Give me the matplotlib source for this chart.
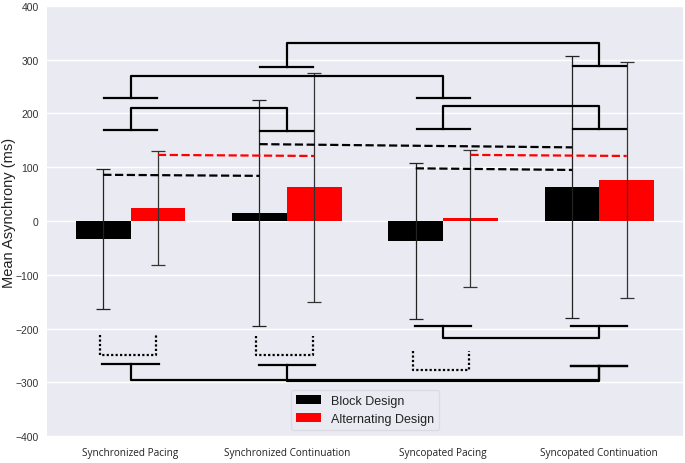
import numpy as np
import matplotlib.pyplot as plt

conditions = ['Synchronized Pacing', 'Synchronized Continuation',
              'Syncopated Pacing', 'Syncopated Continuation']
block_mean = [-33, 15, -38, 63]
block_err = [130, 211, 145, 244]
alt_mean = [24, 63, 5, 76]
alt_err = [106, 213, 127, 219]

# significance brackets above bars: (group a, group b, leg end a, leg end b, bar level)
top_brackets = [(1, 3, 287, 288, 332),
                (0, 2, 229, 229, 270),
                (0, 1, 170, 168, 211),
                (2, 3, 172, 172, 214)]
# brackets below bars (inverted)
bottom_brackets = [(0, 3, -266, -269, -295),
                   (1, 3, -268, -269, -297),
                   (2, 3, -195, -195, -217)]
# dashed comparisons between bars of the same design: (design, group a, group b, y a, y b)
dashed = [('block', 0, 1, 86, 84),
          ('alt', 0, 1, 123, 121),
          ('block', 1, 3, 143, 137),
          ('block', 2, 3, 98, 95),
          ('alt', 2, 3, 123, 121)]
# dotted within-condition comparisons: (group, top, bottom)
dotted = [(0, -212, -250), (1, -214, -249), (2, -241, -278)]

x = np.arange(len(conditions))
width = 0.35

fig = plt.figure(figsize=(6.85, 4.64), dpi=100)
ax = fig.add_axes([0.0686, 0.058, 0.9284, 0.927])
ax.set_facecolor('#EAEAF2')
for s in ax.spines.values():
    s.set_visible(False)
ax.grid(axis='y', color='white', linewidth=1.0)
ax.set_axisbelow(True)

ax.bar(x - width/2, block_mean, width, color='black', label='Block Design')
ax.bar(x + width/2, alt_mean, width, color='red', label='Alternating Design')
ax.errorbar(x - width/2, block_mean, yerr=block_err, fmt='none',
            ecolor='#222222', elinewidth=0.9, capsize=5, capthick=0.9)
ax.errorbar(x + width/2, alt_mean, yerr=alt_err, fmt='none',
            ecolor='#333333', elinewidth=0.9, capsize=5, capthick=0.9)

lw = 1.6
hw = 0.17
for a, b, ya, yb, top in top_brackets:
    ax.plot([a, a, b, b], [ya, top, top, yb], color='black', lw=lw)
    ax.plot([a - hw, a + hw], [ya, ya], color='black', lw=lw)
    ax.plot([b - hw, b + hw], [yb, yb], color='black', lw=lw)

hw = 0.18
for a, b, ya, yb, bot in bottom_brackets:
    ax.plot([a, a, b, b], [ya, bot, bot, yb], color='black', lw=lw)
    ax.plot([a - hw, a + hw], [ya, ya], color='black', lw=lw)
    ax.plot([b - hw, b + hw], [yb, yb], color='black', lw=lw)

for design, a, b, ya, yb in dashed:
    off = -width/2 if design == 'block' else width/2
    col = 'black' if design == 'block' else 'red'
    ax.plot([a + off, b + off], [ya, yb], color=col, lw=1.6, ls='--')

for g, top, bot in dotted:
    ax.plot([g - 0.195, g - 0.195, g + 0.165, g + 0.165], [top, bot, bot, top],
            color='black', lw=1.6, ls=(0, (1, 1)))

ax.set_ylim(-400, 400)
ax.set_yticks(np.arange(-400, 401, 100))
ax.set_xticks(x)
ax.set_xticklabels(conditions, fontfamily='Open Sans', fontsize=7.2, color='#222222')
ax.tick_params(axis='y', labelsize=7.5, labelcolor='#333333', length=0, pad=6)
ax.tick_params(axis='x', length=0, pad=8)
for t in ax.get_yticklabels():
    t.set_fontfamily('Liberation Sans')
ax.set_ylabel('Mean Asynchrony (ms)', fontsize=10.5, fontfamily='Liberation Sans',
              color='#222222')
ax.yaxis.set_label_coords(-0.049, 0.52)

leg = ax.legend(loc='lower center', frameon=True, fancybox=True,
                prop={'family': 'Liberation Sans', 'size': 9})
leg.get_frame().set_facecolor('#EAEAF2')
leg.get_frame().set_edgecolor('#D8D8E0')
for t in leg.get_texts():
    t.set_color('#222222')

plt.savefig('out.png', dpi=100)
